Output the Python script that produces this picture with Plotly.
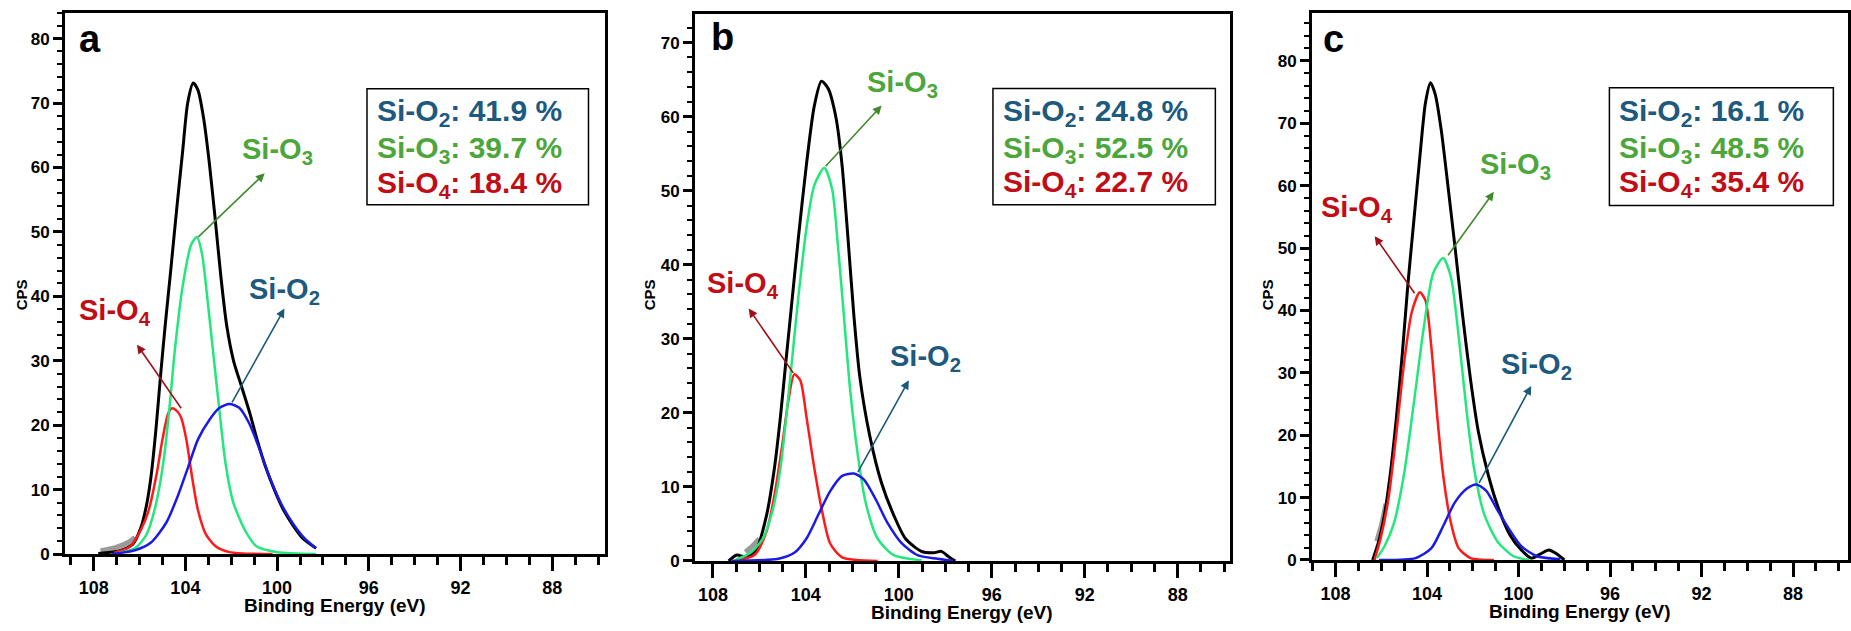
import plotly.graph_objects as go

W, H = 1851, 631

# ---------------- data ----------------
# Panel a
A_black_x = [107.8, 106.9, 106.3, 105.95, 105.7, 105.5, 105.28, 105.1, 104.88, 104.64, 104.38, 104.12, 103.9, 103.66, 103.45, 103.2, 102.95, 102.7, 102.45, 102.2, 101.9, 101.55, 101.2, 100.85, 100.5, 100.1, 99.7, 99.3, 98.9, 98.3]
A_black_y = [0.1, 0.5, 1.5, 4.0, 7.5, 12.0, 19.5, 27.0, 35.5, 44.0, 53.5, 62.5, 70.0, 73.1, 72.0, 67.5, 60.5, 52.0, 43.0, 35.5, 30.0, 26.0, 22.0, 17.5, 13.5, 9.8, 6.7, 4.4, 2.5, 0.9]
A_green_x = [107.0, 106.2, 105.7, 105.3, 104.95, 104.7, 104.45, 104.1, 103.75, 103.5, 103.28, 103.03, 102.77, 102.51, 102.25, 101.91, 101.4, 100.9, 100.0, 98.3]
A_green_y = [0.1, 0.9, 3.0, 7.5, 14.5, 22.5, 32.0, 42.0, 48.0, 49.2, 46.7, 39.3, 30.7, 22.1, 14.1, 8.0, 3.7, 1.2, 0.3, 0.0]
A_red_x = [107.1, 106.4, 105.95, 105.6, 105.26, 105.0, 104.75, 104.6, 104.4, 104.2, 103.97, 103.71, 103.45, 103.11, 102.68, 102.08, 100.2]
A_red_y = [0.2, 1.2, 3.7, 6.8, 12.3, 17.8, 21.8, 22.6, 22.3, 21.3, 18.0, 12.0, 6.8, 3.1, 1.2, 0.3, 0.0]
A_blue_x = [107.2, 106.2, 105.5, 104.83, 104.31, 103.88, 103.45, 102.94, 102.51, 102.08, 101.65, 101.22, 100.8, 100.37, 99.85, 99.34, 98.82, 98.31]
A_blue_y = [0.0, 0.6, 1.8, 4.9, 9.2, 13.5, 17.8, 20.9, 22.7, 23.3, 22.7, 20.3, 16.6, 12.3, 8.0, 4.9, 2.5, 0.9]
A_gray_x = [107.7, 107.3, 106.9, 106.5, 106.2]
A_gray_y = [0.5, 0.8, 1.2, 1.8, 2.6]

# Panel b
B_black_x = [107.32, 106.97, 106.55, 106.12, 105.69, 105.35, 105.09, 104.87, 104.63, 104.32, 103.98, 103.64, 103.33, 103.04, 102.7, 102.44, 102.19, 101.93, 101.68, 101.25, 100.74, 100.22, 99.71, 99.03, 98.51, 98.17, 97.83, 97.57]
B_black_y = [0.0, 0.8, 0.5, 1.6, 6.2, 12.6, 19.6, 26.6, 34.1, 43.7, 53.4, 61.4, 64.8, 63.8, 59.8, 53.4, 43.7, 33.0, 24.9, 16.9, 10.5, 6.2, 3.0, 1.3, 1.1, 1.3, 0.5, 0.0]
B_green_x = [107.0, 106.38, 105.86, 105.44, 105.09, 104.84, 104.58, 104.32, 103.98, 103.64, 103.21, 102.87, 102.62, 102.36, 102.1, 101.76, 101.42, 100.91, 100.22, 99.03]
B_green_y = [0.2, 1.1, 3.0, 6.7, 12.6, 19.6, 27.6, 35.7, 44.8, 50.7, 53.1, 50.2, 42.6, 33.0, 23.3, 14.2, 7.8, 3.0, 0.8, 0.1]
B_red_x = [107.1, 106.21, 105.69, 105.35, 105.01, 104.75, 104.5, 104.24, 103.98, 103.64, 103.3, 102.96, 102.44, 100.91]
B_red_y = [0.0, 0.8, 4.0, 8.9, 15.8, 21.7, 25.2, 24.4, 19.6, 12.6, 6.7, 2.4, 0.5, 0.0]
B_blue_x = [107.2, 105.18, 104.5, 103.98, 103.47, 102.96, 102.44, 101.93, 101.5, 100.99, 100.48, 99.88, 99.2, 98.34, 97.66]
B_blue_y = [0.0, 0.3, 1.1, 3.0, 6.2, 9.4, 11.5, 11.8, 11.0, 8.3, 5.1, 2.4, 0.8, 0.3, 0.0]
B_gray_x = [106.6, 106.3, 106.0]
B_gray_y = [1.2, 2.0, 3.0]

# Panel c
C_black_x = [106.38, 106.12, 105.86, 105.61, 105.35, 105.09, 104.84, 104.58, 104.32, 104.07, 103.85, 103.64, 103.38, 103.13, 102.79, 102.44, 102.1, 101.76, 101.33, 100.91, 100.39, 99.88, 99.45, 99.03, 98.68, 98.34, 98.0]
C_black_y = [0.0, 2.9, 7.3, 13.7, 22.5, 32.7, 44.1, 54.3, 64.4, 73.3, 76.5, 74.6, 68.9, 61.3, 50.5, 39.0, 28.9, 20.6, 13.7, 8.6, 4.1, 1.6, 0.3, 1.0, 1.6, 1.0, 0.0]
C_green_x = [106.2, 105.86, 105.44, 105.01, 104.58, 104.15, 103.73, 103.3, 102.96, 102.62, 102.27, 101.93, 101.5, 100.91, 100.22, 99.54]
C_green_y = [0.3, 2.2, 6.0, 13.7, 25.1, 37.1, 46.0, 48.4, 45.4, 35.9, 23.8, 14.3, 7.3, 2.9, 0.6, 0.0]
C_red_x = [106.3, 106.03, 105.69, 105.35, 105.01, 104.67, 104.32, 104.07, 103.81, 103.56, 103.3, 102.96, 102.62, 102.1, 101.08]
C_red_y = [0.0, 3.5, 9.8, 20.0, 31.4, 39.7, 42.9, 41.6, 34.0, 23.2, 13.7, 6.0, 1.9, 0.3, 0.0]
C_blue_x = [106.1, 104.5, 103.81, 103.3, 102.79, 102.27, 101.85, 101.42, 100.91, 100.39, 99.88, 99.2, 98.17]
C_blue_y = [0.0, 0.3, 1.9, 5.4, 9.2, 11.4, 12.1, 11.1, 7.9, 4.8, 2.2, 0.6, 0.1]
C_gray_x = [106.2, 106.0, 105.8]
C_gray_y = [3.0, 5.5, 9.0]

panel_letters = ["a", "b", "c"]
pct_SiO2 = ["41.9", "24.8", "16.1"]
pct_SiO3 = ["39.7", "52.5", "48.5"]
pct_SiO4 = ["18.4", "22.7", "35.4"]
x_tick_vals = [108, 104, 100, 96, 92, 88]
x_title = "Binding Energy (eV)"
y_title = "CPS"

# ---------------- style ----------------
FONT = "Liberation Sans, Arial, sans-serif"
C_BLACK = "#000000"
C_RED = "#ff1a1a"
C_GREEN = "#22e87c"
C_BLUE = "#1a1ae8"
C_GRAY = "rgba(120,120,120,0.75)"
T_O2 = "#1d5a7e"
T_O3 = "#4ca63c"
T_O4 = "#c00d16"
A_O2 = "#1a5a78"
A_O3 = "#3f8a2a"
A_O4 = "#a0101a"

# panel geometry in pixels (left, right, top, bottom) and axis ranges
panels = [
    dict(px=(65, 605, 13, 563), xr=[109.25, 85.7], yr=[0, 84.0]),
    dict(px=(695, 1230, 14, 570), xr=[108.77, 85.75], yr=[0, 73.9]),
    dict(px=(1312, 1848, 13, 569), xr=[109.03, 85.6], yr=[0, 87.7]),
]

curves = [
    [(A_gray_x, A_gray_y, C_GRAY, 5), (A_black_x, A_black_y, C_BLACK, 3), (A_red_x, A_red_y, C_RED, 2.5),
     (A_green_x, A_green_y, C_GREEN, 2.5), (A_blue_x, A_blue_y, C_BLUE, 2.5)],
    [(B_gray_x, B_gray_y, C_GRAY, 5), (B_black_x, B_black_y, C_BLACK, 3), (B_red_x, B_red_y, C_RED, 2.5),
     (B_green_x, B_green_y, C_GREEN, 2.5), (B_blue_x, B_blue_y, C_BLUE, 2.5)],
    [(C_gray_x, C_gray_y, C_GRAY, 5), (C_black_x, C_black_y, C_BLACK, 3), (C_red_x, C_red_y, C_RED, 2.5),
     (C_green_x, C_green_y, C_GREEN, 2.5), (C_blue_x, C_blue_y, C_BLUE, 2.5)],
]

# annotation positions (data coords): label center, arrow tail (peak), arrow head
labels = [
    dict(o3=(100.0, 62.5), o3a=((103.5, 49.0), (100.54, 59.1)),
         o4=(107.06, 37.5), o4a=((104.14, 22.4), (106.11, 32.5)),
         o2=(99.68, 40.8), o2a=((102.0, 23.3), (99.68, 38.1)),
         letter=(108.17, 79.9),
         box=(96.08, 86.42, 72.2, 54.2), rows=(68.5, 62.8, 57.4), tx=95.75),
    dict(o3=(99.85, 64.4), o3a=((103.21, 53.1), (100.74, 61.5)),
         o4=(106.72, 37.3), o4a=((104.5, 25.2), (106.46, 34.1)),
         o2=(98.85, 27.4), o2a=((101.8, 11.8), (99.57, 24.4)),
         letter=(107.57, 70.8),
         box=(95.95, 86.38, 63.8, 48.1), rows=(60.6, 55.6, 51.0), tx=95.6),
    dict(o3=(100.14, 63.2), o3a=((103.13, 48.6), (101.08, 59.0)),
         o4=(107.06, 56.2), o4a=((104.5, 42.5), (106.29, 51.9)),
         o2=(99.2, 31.1), o2a=((101.76, 12.1), (99.45, 27.9)),
         letter=(108.09, 83.5),
         box=(96.03, 86.24, 75.7, 56.8), rows=(71.7, 65.8, 60.3), tx=95.7),
]

fig = go.Figure()
layout = dict(
    width=W, height=H, margin=dict(l=0, r=0, t=0, b=0),
    paper_bgcolor="white", plot_bgcolor="white", showlegend=False,
    font=dict(family=FONT, color="black"),
)
annotations = []
shapes = []

for i, p in enumerate(panels):
    n = "" if i == 0 else str(i + 1)
    xa, ya = "x" + n, "y" + n
    l, r, t, b = p["px"]
    layout["xaxis" + n] = dict(
        domain=[l / W, r / W], range=p["xr"], anchor=ya,
        showline=True, linecolor="black", linewidth=3, mirror=True,
        showgrid=False, zeroline=False,
        tickmode="array", tickvals=x_tick_vals,
        ticks="outside", ticklen=14, tickwidth=3, tickcolor="black",
        ticklabelstandoff=1,
        tickfont=dict(family=FONT, size=18, color="black", weight="bold"),
        minor=dict(ticks="outside", ticklen=8, tickwidth=2.5, tickcolor="black", dtick=1, tick0=88, showgrid=False),
    )
    layout["yaxis" + n] = dict(
        domain=[1 - b / H, 1 - t / H], range=p["yr"], anchor=xa,
        showline=True, linecolor="black", linewidth=3, mirror=True,
        showgrid=False, zeroline=False,
        dtick=10, tick0=0,
        ticks="outside", ticklen=9, tickwidth=2.5, tickcolor="black",
        tickfont=dict(family=FONT, size=17, color="black", weight="bold"),
        minor=dict(ticks="outside", ticklen=5, tickwidth=2, tickcolor="black", dtick=2, tick0=0, showgrid=False),
    )
    for (cx, cy, col, lw) in curves[i]:
        fig.add_trace(go.Scatter(x=cx, y=cy, mode="lines", xaxis=xa, yaxis=ya,
                                 line=dict(color=col, width=lw, shape="spline", smoothing=0.7),
                                 hoverinfo="skip"))
    lab = labels[i]
    for key, txt, col in [("o3", "Si-O<sub>3</sub>", T_O3), ("o4", "Si-O<sub>4</sub>", T_O4), ("o2", "Si-O<sub>2</sub>", T_O2)]:
        annotations.append(dict(x=lab[key][0], y=lab[key][1], xref=xa, yref=ya, text=txt, showarrow=False,
                                xanchor="center", yanchor="middle",
                                font=dict(family=FONT, size=29, color=col, weight="bold")))
    for key, col in [("o3a", A_O3), ("o4a", A_O4), ("o2a", A_O2)]:
        (tx0, ty0), (hx, hy) = lab[key]
        annotations.append(dict(x=hx, y=hy, ax=tx0, ay=ty0, xref=xa, yref=ya, axref=xa, ayref=ya,
                                text="", showarrow=True, arrowhead=2, arrowsize=1.1, arrowwidth=1.6,
                                arrowcolor=col, standoff=0, startstandoff=0))
    annotations.append(dict(x=lab["letter"][0], y=lab["letter"][1], xref=xa, yref=ya, text=panel_letters[i],
                            showarrow=False, xanchor="center", yanchor="middle",
                            font=dict(family=FONT, size=38, color="black", weight="bold")))
    bx0, bx1, by1, by0 = lab["box"]
    shapes.append(dict(type="rect", xref=xa, yref=ya, x0=bx0, x1=bx1, y0=by0, y1=by1,
                       line=dict(color="black", width=1.5), fillcolor="rgba(0,0,0,0)"))
    for row_y, txt, col in zip(lab["rows"],
                               ["Si-O<sub>2</sub>: %s %%" % pct_SiO2[i],
                                "Si-O<sub>3</sub>: %s %%" % pct_SiO3[i],
                                "Si-O<sub>4</sub>: %s %%" % pct_SiO4[i]],
                               [T_O2, T_O3, T_O4]):
        annotations.append(dict(x=lab["tx"], y=row_y, xref=xa, yref=ya, text=txt, showarrow=False,
                                xanchor="left", yanchor="middle",
                                font=dict(family=FONT, size=30, color=col, weight="bold")))
    annotations.append(dict(x=(l + r) / 2 / W, y=1 - (b + 52) / H, xref="paper", yref="paper", text=x_title,
                            showarrow=False, xanchor="center", yanchor="middle",
                            font=dict(family=FONT, size=19, color="black", weight="bold")))

for cps_x in (21, 649, 1267):
    annotations.append(dict(x=cps_x / W, y=1 - 300 / H, xref="paper", yref="paper", text=y_title,
                            showarrow=False, textangle=-90, xanchor="center", yanchor="middle",
                            font=dict(family=FONT, size=15, color="black", weight="bold")))

layout["annotations"] = annotations
layout["shapes"] = shapes
fig.update_layout(**layout)
fig.write_html("out.html")
